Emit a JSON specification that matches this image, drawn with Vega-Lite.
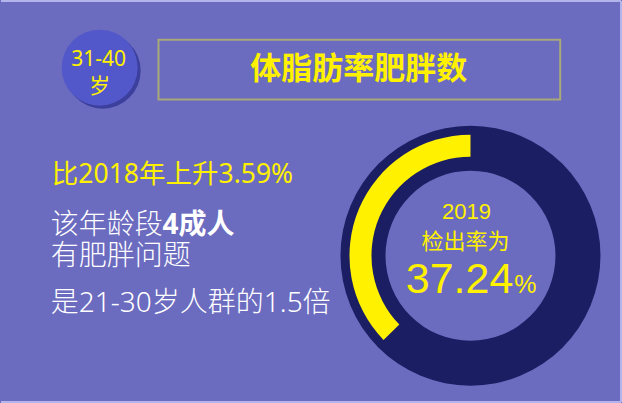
{
  "$schema": "https://vega.github.io/schema/vega-lite/v6.json",
  "width": 622,
  "height": 403,
  "padding": 0,
  "autosize": {"type": "fit", "contains": "padding"},
  "background": "#6b6bbf",
  "config": {"view": {"stroke": null}, "text": {"font": "Noto Sans, Noto Sans CJK SC, sans-serif"}},
  "data": {"values": [
    {"status": "未检出", "value": 62.76},
    {"status": "检出", "value": 37.24}
  ]},
  "layer": [
    {
      "data": {"values": [{}]},
      "mark": {"type": "rule", "color": "#b4b4ec", "strokeWidth": 2},
      "encoding": {
        "x": {"datum": 0, "type": "quantitative", "scale": {"domain": [0, 622], "nice": false, "zero": false}, "axis": null},
        "x2": {"datum": 622},
        "y": {"datum": 0, "type": "quantitative", "scale": {"domain": [0, 403], "nice": false, "zero": false, "reverse": true}, "axis": null}
      }
    },
    {
      "data": {"values": [{}]},
      "mark": {"type": "rule", "color": "#b4b4ec", "strokeWidth": 2},
      "encoding": {
        "x": {"datum": 0, "type": "quantitative", "scale": {"domain": [0, 622], "nice": false, "zero": false}, "axis": null},
        "x2": {"datum": 622},
        "y": {"datum": 403, "type": "quantitative", "scale": {"domain": [0, 403], "nice": false, "zero": false, "reverse": true}, "axis": null}
      }
    },
    {
      "data": {"values": [{}]},
      "mark": {"type": "rule", "color": "#b4b4ec", "strokeWidth": 2},
      "encoding": {
        "x": {"datum": 622, "type": "quantitative", "scale": {"domain": [0, 622], "nice": false, "zero": false}, "axis": null},
        "y": {"datum": 0, "type": "quantitative", "scale": {"domain": [0, 403], "nice": false, "zero": false, "reverse": true}, "axis": null},
        "y2": {"datum": 403}
      }
    },
    {
      "data": {"values": [{}]},
      "mark": {"type": "point", "shape": "circle", "filled": true, "size": 5776, "color": "#3c3f9c", "opacity": 1},
      "encoding": {
        "x": {"datum": 102, "type": "quantitative", "scale": {"domain": [0, 622], "nice": false, "zero": false}, "axis": null},
        "y": {"datum": 70, "type": "quantitative", "scale": {"domain": [0, 403], "nice": false, "zero": false, "reverse": true}, "axis": null}
      }
    },
    {
      "data": {"values": [{}]},
      "mark": {"type": "point", "shape": "circle", "filled": true, "size": 5776, "color": "#5257c9", "opacity": 1},
      "encoding": {
        "x": {"datum": 99, "type": "quantitative", "scale": {"domain": [0, 622], "nice": false, "zero": false}, "axis": null},
        "y": {"datum": 67, "type": "quantitative", "scale": {"domain": [0, 403], "nice": false, "zero": false, "reverse": true}, "axis": null}
      }
    },
    {
      "data": {"values": [{}]},
      "mark": {"type": "text", "text": "31-40", "fontSize": 21, "color": "#fff100", "align": "center", "baseline": "middle"},
      "encoding": {
        "x": {"datum": 98, "type": "quantitative", "scale": {"domain": [0, 622], "nice": false, "zero": false}, "axis": null},
        "y": {"datum": 59, "type": "quantitative", "scale": {"domain": [0, 403], "nice": false, "zero": false, "reverse": true}, "axis": null}
      }
    },
    {
      "data": {"values": [{}]},
      "mark": {"type": "text", "text": "岁", "fontSize": 21, "color": "#fff100", "align": "center", "baseline": "middle"},
      "encoding": {
        "x": {"datum": 99, "type": "quantitative", "scale": {"domain": [0, 622], "nice": false, "zero": false}, "axis": null},
        "y": {"datum": 86, "type": "quantitative", "scale": {"domain": [0, 403], "nice": false, "zero": false, "reverse": true}, "axis": null}
      }
    },
    {
      "data": {"values": [{}]},
      "mark": {"type": "rect", "fill": null, "fillOpacity": 0, "stroke": "#a9a87a", "strokeWidth": 2},
      "encoding": {
        "x": {"datum": 158, "type": "quantitative", "scale": {"domain": [0, 622], "nice": false, "zero": false}, "axis": null},
        "x2": {"datum": 561},
        "y": {"datum": 39, "type": "quantitative", "scale": {"domain": [0, 403], "nice": false, "zero": false, "reverse": true}, "axis": null},
        "y2": {"datum": 99}
      }
    },
    {
      "data": {"values": [{}]},
      "mark": {"type": "text", "text": "体脂肪率肥胖数", "fontSize": 31, "fontWeight": "bold", "color": "#fff100", "align": "center", "baseline": "middle"},
      "encoding": {
        "x": {"datum": 359, "type": "quantitative", "scale": {"domain": [0, 622], "nice": false, "zero": false}, "axis": null},
        "y": {"datum": 69, "type": "quantitative", "scale": {"domain": [0, 403], "nice": false, "zero": false, "reverse": true}, "axis": null}
      }
    },
    {
      "data": {"values": [{}]},
      "mark": {"type": "text", "text": "比2018年上升3.59%", "fontSize": 26.5, "color": "#fff100", "align": "left", "baseline": "middle"},
      "encoding": {
        "x": {"datum": 51, "type": "quantitative", "scale": {"domain": [0, 622], "nice": false, "zero": false}, "axis": null},
        "y": {"datum": 175, "type": "quantitative", "scale": {"domain": [0, 403], "nice": false, "zero": false, "reverse": true}, "axis": null}
      }
    },
    {
      "data": {"values": [{}]},
      "mark": {"type": "text", "text": "该年龄段", "fontSize": 28, "fontWeight": 300, "color": "#ffffff", "align": "left", "baseline": "middle"},
      "encoding": {
        "x": {"datum": 50, "type": "quantitative", "scale": {"domain": [0, 622], "nice": false, "zero": false}, "axis": null},
        "y": {"datum": 226, "type": "quantitative", "scale": {"domain": [0, 403], "nice": false, "zero": false, "reverse": true}, "axis": null}
      }
    },
    {
      "data": {"values": [{}]},
      "mark": {"type": "text", "text": "4成人", "fontSize": 28, "fontWeight": "bold", "color": "#ffffff", "align": "left", "baseline": "middle"},
      "encoding": {
        "x": {"datum": 162, "type": "quantitative", "scale": {"domain": [0, 622], "nice": false, "zero": false}, "axis": null},
        "y": {"datum": 226, "type": "quantitative", "scale": {"domain": [0, 403], "nice": false, "zero": false, "reverse": true}, "axis": null}
      }
    },
    {
      "data": {"values": [{}]},
      "mark": {"type": "text", "text": "有肥胖问题", "fontSize": 28, "fontWeight": 300, "color": "#ffffff", "align": "left", "baseline": "middle"},
      "encoding": {
        "x": {"datum": 50, "type": "quantitative", "scale": {"domain": [0, 622], "nice": false, "zero": false}, "axis": null},
        "y": {"datum": 257, "type": "quantitative", "scale": {"domain": [0, 403], "nice": false, "zero": false, "reverse": true}, "axis": null}
      }
    },
    {
      "data": {"values": [{}]},
      "mark": {"type": "text", "text": "是21-30岁人群的1.5倍", "fontSize": 28, "fontWeight": 300, "color": "#ffffff", "align": "left", "baseline": "middle"},
      "encoding": {
        "x": {"datum": 50, "type": "quantitative", "scale": {"domain": [0, 622], "nice": false, "zero": false}, "axis": null},
        "y": {"datum": 305, "type": "quantitative", "scale": {"domain": [0, 403], "nice": false, "zero": false, "reverse": true}, "axis": null}
      }
    },
    {
      "data": {"values": [{}]},
      "mark": {"type": "arc", "radius": 130, "radius2": 85, "theta": 0, "theta2": 6.2832, "color": "#1b1e62"},
      "encoding": {
        "x": {"datum": 471, "type": "quantitative", "scale": {"domain": [0, 622], "nice": false, "zero": false}, "axis": null},
        "y": {"datum": 256, "type": "quantitative", "scale": {"domain": [0, 403], "nice": false, "zero": false, "reverse": true}, "axis": null}
      }
    },
    {
      "mark": {"type": "arc", "radius": 121, "radius2": 99},
      "encoding": {
        "x": {"datum": 471, "type": "quantitative", "scale": {"domain": [0, 622], "nice": false, "zero": false}, "axis": null},
        "y": {"datum": 256, "type": "quantitative", "scale": {"domain": [0, 403], "nice": false, "zero": false, "reverse": true}, "axis": null},
        "theta": {"field": "value", "type": "quantitative", "stack": true},
        "order": {"field": "value", "type": "quantitative", "sort": "descending"},
        "color": {"condition": {"test": "datum.status === '检出'", "value": "#fff100"}, "value": "rgba(0,0,0,0)"}
      }
    },
    {
      "data": {"values": [{}]},
      "mark": {"type": "text", "text": "2019", "font": "Liberation Sans", "fontSize": 22, "color": "#fff100", "align": "center", "baseline": "middle"},
      "encoding": {
        "x": {"datum": 467, "type": "quantitative", "scale": {"domain": [0, 622], "nice": false, "zero": false}, "axis": null},
        "y": {"datum": 212, "type": "quantitative", "scale": {"domain": [0, 403], "nice": false, "zero": false, "reverse": true}, "axis": null}
      }
    },
    {
      "data": {"values": [{}]},
      "mark": {"type": "text", "text": "检出率为", "fontSize": 22, "color": "#fff100", "align": "center", "baseline": "middle"},
      "encoding": {
        "x": {"datum": 466, "type": "quantitative", "scale": {"domain": [0, 622], "nice": false, "zero": false}, "axis": null},
        "y": {"datum": 242, "type": "quantitative", "scale": {"domain": [0, 403], "nice": false, "zero": false, "reverse": true}, "axis": null}
      }
    },
    {
      "data": {"values": [{}]},
      "mark": {"type": "text", "text": "37.24", "font": "Liberation Sans", "fontSize": 43, "color": "#fff100", "align": "right", "baseline": "alphabetic"},
      "encoding": {
        "x": {"datum": 514, "type": "quantitative", "scale": {"domain": [0, 622], "nice": false, "zero": false}, "axis": null},
        "y": {"datum": 293, "type": "quantitative", "scale": {"domain": [0, 403], "nice": false, "zero": false, "reverse": true}, "axis": null}
      }
    },
    {
      "data": {"values": [{}]},
      "mark": {"type": "text", "text": "%", "font": "Liberation Sans", "fontSize": 25, "color": "#fff100", "align": "left", "baseline": "alphabetic"},
      "encoding": {
        "x": {"datum": 515, "type": "quantitative", "scale": {"domain": [0, 622], "nice": false, "zero": false}, "axis": null},
        "y": {"datum": 293, "type": "quantitative", "scale": {"domain": [0, 403], "nice": false, "zero": false, "reverse": true}, "axis": null}
      }
    }
  ]
}
